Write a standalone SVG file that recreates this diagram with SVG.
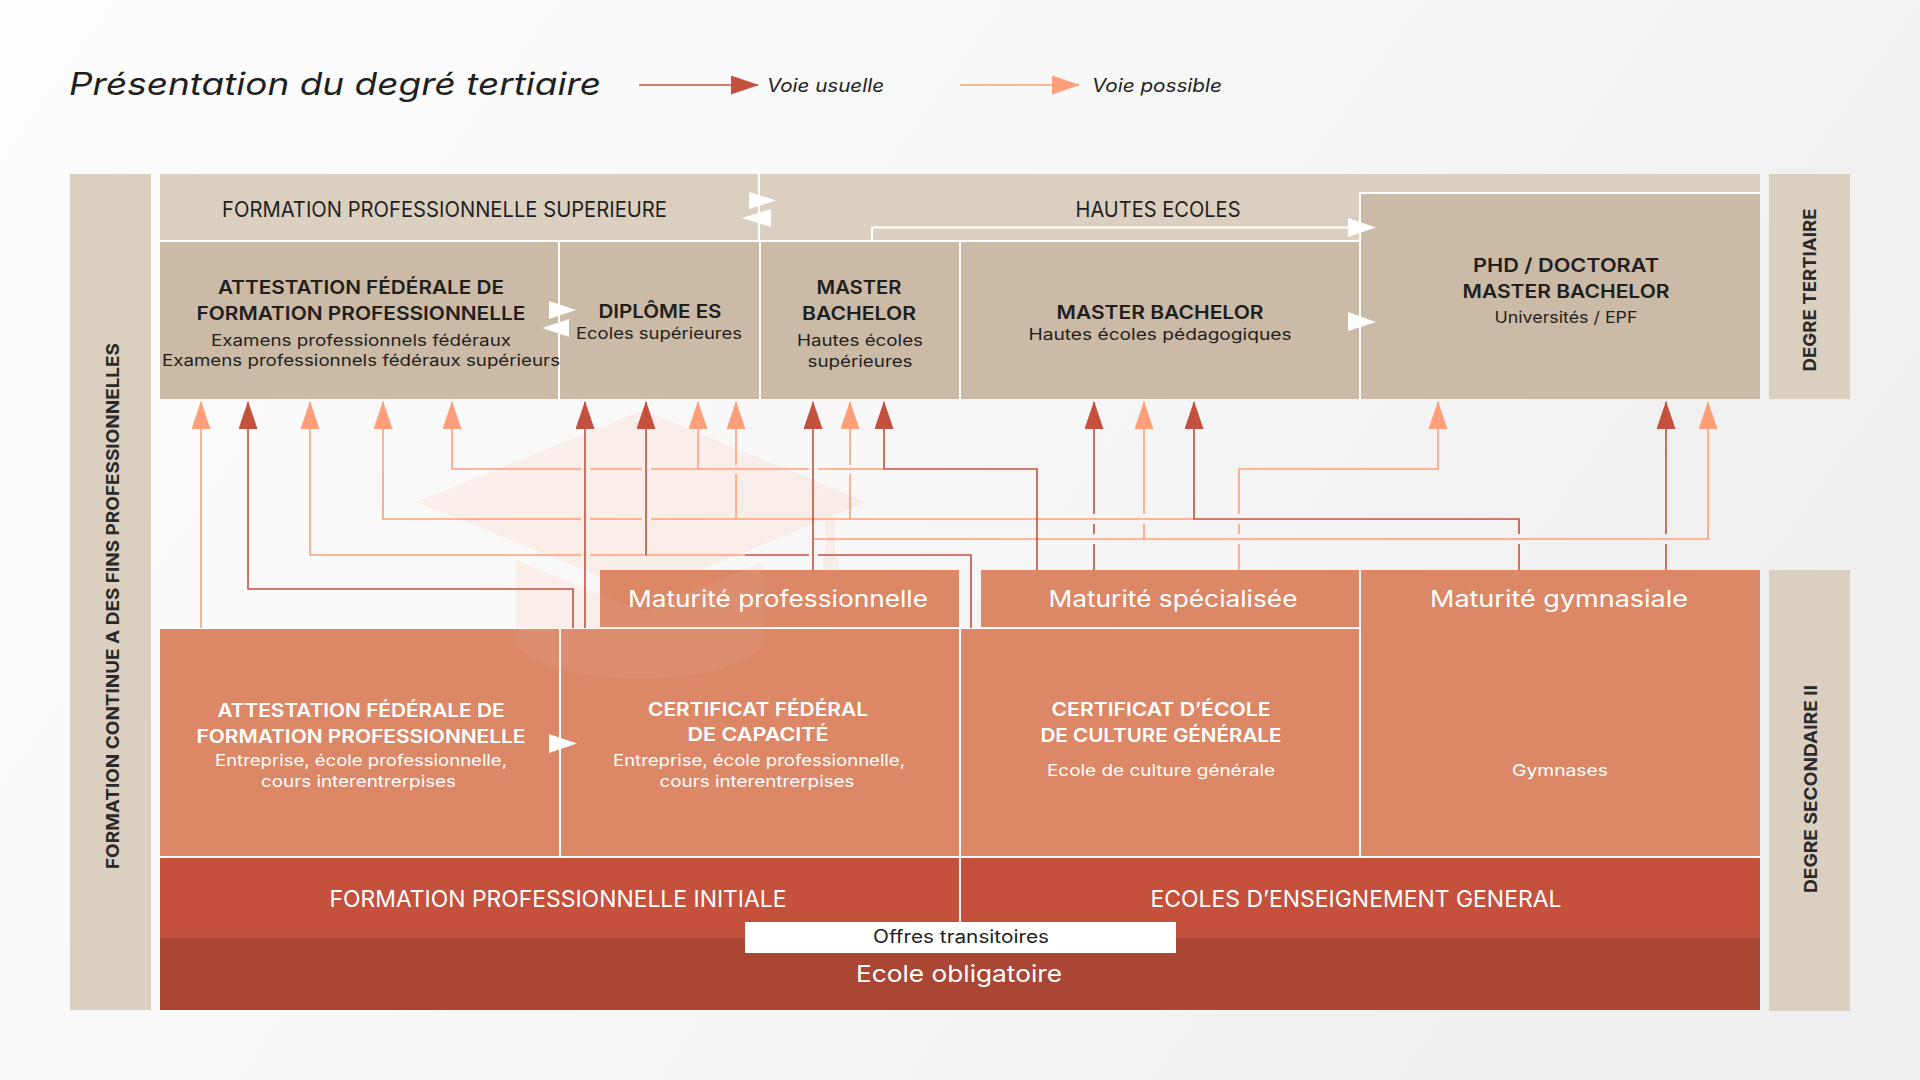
<svg xmlns="http://www.w3.org/2000/svg" width="1920" height="1080" viewBox="0 0 1920 1080">
<defs>
<linearGradient id="bg" x1="0" y1="0" x2="1" y2="0.4">
<stop offset="0" stop-color="#fdfdfd"/><stop offset="0.5" stop-color="#f8f8f8"/><stop offset="1" stop-color="#efefef"/>
</linearGradient>
<clipPath id="boxclip"><rect x="160" y="570" width="800" height="290"/></clipPath>
<marker id="ad" viewBox="0 0 28 19" refX="27" refY="9.5" markerWidth="28" markerHeight="19" markerUnits="userSpaceOnUse" orient="auto"><path d="M0,0L28,9.5L0,19Z" fill="#c4513e"/></marker>
<marker id="al" viewBox="0 0 28 19" refX="27" refY="9.5" markerWidth="28" markerHeight="19" markerUnits="userSpaceOnUse" orient="auto"><path d="M0,0L28,9.5L0,19Z" fill="#ff9f7a"/></marker>
<style>
text{font-family:Inter,'Noto Sans','DejaVu Sans',sans-serif;}
.c{text-anchor:middle}
.dk{fill:#1f1f1f}
.wh{fill:#ffffff}
.hd{font-size:21px}
.bt{font-size:19px;font-weight:600}
.st{font-size:16px}
.mt{font-size:23px}
.vl{font-size:18px;font-weight:700;fill:#2a2a2a}
.it{font-style:italic}
.beige{fill:#dbd0bf}
.box{fill:#cbbaa5}
.or{fill:#dc8867}
.red{fill:#c5513d}
.dred{fill:#a94634}
.d{fill:none;stroke:#c4513e;stroke-width:1.6}
.l{fill:none;stroke:#ff9f7a;stroke-width:1.6}
.wa{fill:#ffffff}
</style>
</defs>

<rect x="0" y="0" width="1920" height="1080" fill="url(#bg)"/>

<g id="title">
<text x="69" y="95" font-size="31" class="dk it" textLength="532" lengthAdjust="spacingAndGlyphs">Présentation du degré tertiaire</text>
</g>
<g id="legend">
<line x1="639" y1="85" x2="758" y2="85" class="d" marker-end="url(#ad)"/>
<text x="767" y="92" font-size="18" class="dk it" textLength="117" lengthAdjust="spacingAndGlyphs">Voie usuelle</text>
<line x1="960" y1="85" x2="1079" y2="85" class="l" marker-end="url(#al)"/>
<text x="1092" y="92" font-size="18" class="dk it" textLength="130" lengthAdjust="spacingAndGlyphs">Voie possible</text>
</g>

<g id="side-left">
<rect x="70" y="174" width="81" height="836" class="beige"/>
<text transform="translate(118.5,606) rotate(-90)" class="vl c" textLength="526" lengthAdjust="spacingAndGlyphs">FORMATION CONTINUE A DES FINS PROFESSIONNELLES</text>
</g>
<g id="side-tertiaire">
<rect x="1769" y="174" width="81" height="225" class="beige"/>
<text transform="translate(1816,290) rotate(-90)" class="vl c" textLength="163" lengthAdjust="spacingAndGlyphs">DEGRE TERTIAIRE</text>
</g>
<g id="side-secondaire">
<rect x="1769" y="570" width="81" height="441" class="beige"/>
<text transform="translate(1817,789) rotate(-90)" class="vl c" textLength="208" lengthAdjust="spacingAndGlyphs">DEGRE SECONDAIRE II</text>
</g>

<rect x="160" y="174" width="1600" height="225" fill="#ffffff"/>
<rect x="160" y="628" width="1600" height="230" fill="#ffffff"/>

<g id="mortarboard" fill="#ffc4ae" opacity="0.2">
<polygon points="416,502 643,410 866,502 643,594"/>
<path d="M516,560 L643,612 L763,562 V640 A123,38 0 0 1 516,640 Z"/>
<rect x="826" y="505" width="9" height="55"/>
<ellipse cx="830.5" cy="563" rx="8" ry="10"/>
</g>

<g id="header-fps">
<rect x="160" y="174" width="598" height="66" class="beige"/>
<text x="444.5" y="217" class="dk hd c" textLength="445" lengthAdjust="spacingAndGlyphs">FORMATION PROFESSIONNELLE SUPERIEURE</text>
</g>
<g id="header-he">
<rect x="760" y="174" width="1000" height="66" class="beige"/>
<text x="1158" y="217" class="dk hd c" textLength="165" lengthAdjust="spacingAndGlyphs">HAUTES ECOLES</text>
</g>

<g id="afp-sup">
<rect x="160" y="242" width="398" height="157" class="box"/>
<text x="361" y="294" class="dk bt c" textLength="286" lengthAdjust="spacingAndGlyphs">ATTESTATION FÉDÉRALE DE</text>
<text x="361" y="320" class="dk bt c" textLength="329" lengthAdjust="spacingAndGlyphs">FORMATION PROFESSIONNELLE</text>
<text x="361" y="346" class="dk st c" textLength="300" lengthAdjust="spacingAndGlyphs">Examens professionnels fédéraux</text>
<text x="361" y="366" class="dk st c" textLength="398" lengthAdjust="spacingAndGlyphs">Examens professionnels fédéraux supérieurs</text>
</g>
<g id="diplome-es">
<rect x="560" y="242" width="199" height="157" class="box"/>
<text x="660" y="318" class="dk bt c" textLength="123" lengthAdjust="spacingAndGlyphs">DIPLÔME ES</text>
<text x="659" y="339" class="dk st c" textLength="166" lengthAdjust="spacingAndGlyphs">Ecoles supérieures</text>
</g>
<g id="master-hes">
<rect x="761" y="242" width="198" height="157" class="box"/>
<text x="859" y="294" class="dk bt c" textLength="85" lengthAdjust="spacingAndGlyphs">MASTER</text>
<text x="859" y="320" class="dk bt c" textLength="114" lengthAdjust="spacingAndGlyphs">BACHELOR</text>
<text x="860" y="346" class="dk st c" textLength="126" lengthAdjust="spacingAndGlyphs">Hautes écoles</text>
<text x="860" y="367" class="dk st c" textLength="105" lengthAdjust="spacingAndGlyphs">supérieures</text>
</g>
<g id="master-hep">
<rect x="961" y="242" width="398" height="157" class="box"/>
<text x="1160" y="319" class="dk bt c" textLength="207" lengthAdjust="spacingAndGlyphs">MASTER BACHELOR</text>
<text x="1160" y="340" class="dk st c" textLength="263" lengthAdjust="spacingAndGlyphs">Hautes écoles pédagogiques</text>
</g>
<g id="phd">
<rect x="1359" y="192" width="401" height="207" fill="#ffffff"/>
<rect x="1361" y="194" width="399" height="205" class="box"/>
<text x="1566" y="272" class="dk bt c" textLength="186" lengthAdjust="spacingAndGlyphs">PHD / DOCTORAT</text>
<text x="1566" y="298" class="dk bt c" textLength="207" lengthAdjust="spacingAndGlyphs">MASTER BACHELOR</text>
<text x="1566" y="323" class="dk st c" textLength="143" lengthAdjust="spacingAndGlyphs">Universités / EPF</text>
</g>

<g id="maturite-pro">
<rect x="600" y="570" width="359" height="57" class="or"/>
<text x="778" y="607" class="wh mt c" textLength="300" lengthAdjust="spacingAndGlyphs">Maturité professionnelle</text>
</g>
<g id="maturite-spe">
<rect x="981" y="570" width="378" height="57" class="or"/>
<text x="1173" y="607" class="wh mt c" textLength="249" lengthAdjust="spacingAndGlyphs">Maturité spécialisée</text>
</g>
<g id="gymnase">
<rect x="1361" y="570" width="399" height="286" class="or"/>
<text x="1559" y="607" class="wh mt c" textLength="258" lengthAdjust="spacingAndGlyphs">Maturité gymnasiale</text>
<text x="1560" y="776" class="wh st c" textLength="96" lengthAdjust="spacingAndGlyphs">Gymnases</text>
</g>
<g id="afp">
<rect x="160" y="629" width="399" height="227" class="or"/>
<text x="361" y="717" class="wh bt c" textLength="287" lengthAdjust="spacingAndGlyphs">ATTESTATION FÉDÉRALE DE</text>
<text x="361" y="743" class="wh bt c" textLength="329" lengthAdjust="spacingAndGlyphs">FORMATION PROFESSIONNELLE</text>
<text x="361" y="766" class="wh st c" textLength="292" lengthAdjust="spacingAndGlyphs">Entreprise, école professionnelle,</text>
<text x="358.5" y="787" class="wh st c" textLength="195" lengthAdjust="spacingAndGlyphs">cours interentrerpises</text>
</g>
<g id="cfc">
<rect x="561" y="629" width="398" height="227" class="or"/>
<text x="758" y="716" class="wh bt c" textLength="220" lengthAdjust="spacingAndGlyphs">CERTIFICAT FÉDÉRAL</text>
<text x="758" y="741" class="wh bt c" textLength="141" lengthAdjust="spacingAndGlyphs">DE CAPACITÉ</text>
<text x="759" y="766" class="wh st c" textLength="292" lengthAdjust="spacingAndGlyphs">Entreprise, école professionnelle,</text>
<text x="757" y="787" class="wh st c" textLength="195" lengthAdjust="spacingAndGlyphs">cours interentrerpises</text>
</g>
<g id="cecg">
<rect x="961" y="629" width="398" height="227" class="or"/>
<text x="1161" y="716" class="wh bt c" textLength="219" lengthAdjust="spacingAndGlyphs">CERTIFICAT D’ÉCOLE</text>
<text x="1161" y="742" class="wh bt c" textLength="241" lengthAdjust="spacingAndGlyphs">DE CULTURE GÉNÉRALE</text>
<text x="1161" y="776" class="wh st c" textLength="228" lengthAdjust="spacingAndGlyphs">Ecole de culture générale</text>
</g>
<g id="fpi">
<rect x="160" y="858" width="799" height="80" class="red"/>
<text x="558" y="907" class="wh mt c" textLength="457" lengthAdjust="spacingAndGlyphs">FORMATION PROFESSIONNELLE INITIALE</text>
</g>
<g id="eeg">
<rect x="961" y="858" width="799" height="80" class="red"/>
<text x="1356" y="907" class="wh mt c" textLength="411" lengthAdjust="spacingAndGlyphs">ECOLES D’ENSEIGNEMENT GENERAL</text>
</g>
<g id="ecole-obligatoire">
<rect x="160" y="938" width="1600" height="72" class="dred"/>
<text x="959" y="982" class="wh mt c" textLength="206" lengthAdjust="spacingAndGlyphs">Ecole obligatoire</text>
</g>
<g id="offres-transitoires">
<rect x="745" y="922" width="431" height="31" fill="#ffffff"/>
<text x="961" y="943" font-size="18" class="dk c" textLength="176" lengthAdjust="spacingAndGlyphs">Offres transitoires</text>
</g>

<g id="mortarboard-overlay" clip-path="url(#boxclip)" fill="#ffffff" opacity="0.05">
<path d="M516,560 L643,612 L763,562 V640 A123,38 0 0 1 516,640 Z"/>
</g>

<g id="connectors">
<g id="white-arrows">
<polygon class="wa" points="749,192 776,200.5 749,209"/>
<polygon class="wa" points="771,209 742,218 771,227"/>
<polygon class="wa" points="549,301 576,310 549,319"/>
<polygon class="wa" points="569,319 542,328 569,337"/>
<polyline points="872,241 872,227.5 1350,227.5" fill="none" stroke="#ffffff" stroke-width="2"/>
<polygon class="wa" points="1348,218 1376,227.5 1348,237"/>
<polygon class="wa" points="1348,312 1376,322 1348,331"/>
<polygon class="wa" points="549,734 577,743.5 549,753"/>
</g>
<g id="possible">
<path class="l" d="M201,628 V402" marker-end="url(#al)"/>
<path class="l" d="M745,555 H590 M581,555 H310 V402" marker-end="url(#al)"/>
<path class="l" d="M1194,519 H651 M642,519 H590 M581,519 H383 V402" marker-end="url(#al)"/>
<path class="l" d="M736,519 V474 M736,465 V402" marker-end="url(#al)"/>
<path class="l" d="M850,519 V474 M850,465 V402" marker-end="url(#al)"/>
<path class="l" d="M884,469 H818 M809,469 H651 M642,469 H590 M581,469 H452 V402" marker-end="url(#al)"/>
<path class="l" d="M698,469 V402" marker-end="url(#al)"/>
<path class="l" d="M813,539 H1708 V402" marker-end="url(#al)"/>
<path class="l" d="M1144,539 V524 M1144,514 V402" marker-end="url(#al)"/>
<path class="l" d="M1239,570 V544 M1239,534 V524 M1239,514 V469 H1438 V402" marker-end="url(#al)"/>
</g>
<g id="usuelle">
<path class="d" d="M573,628 V589 H248 V402" marker-end="url(#ad)"/>
<path class="d" d="M585,628 V402" marker-end="url(#ad)"/>
<path class="d" d="M971,628 V555 H818 M809,555 H745"/>
<path class="d" d="M646,555 V402" marker-end="url(#ad)"/>
<path class="d" d="M813,570 V402" marker-end="url(#ad)"/>
<path class="d" d="M1037,570 V469 H884 V402" marker-end="url(#ad)"/>
<path class="d" d="M1094,570 V544 M1094,534 V524 M1094,514 V402" marker-end="url(#ad)"/>
<path class="d" d="M1519,570 V544 M1519,534 V519 H1194 V402" marker-end="url(#ad)"/>
<path class="d" d="M1666,570 V544 M1666,534 V402" marker-end="url(#ad)"/>
</g>
</g>
</svg>
